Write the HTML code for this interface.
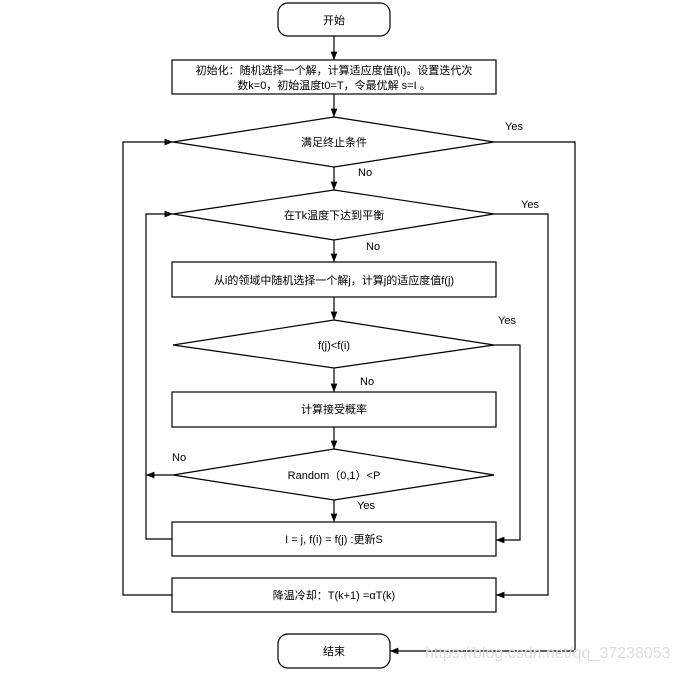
<!DOCTYPE html>
<html><head><meta charset="utf-8"><style>
body{margin:0;background:#fff;}
svg text{font-family:"Liberation Sans","Noto Sans CJK SC",sans-serif;font-size:11px;fill:#000;}
</style></head><body>
<svg width="678" height="671" viewBox="0 0 678 671" xmlns="http://www.w3.org/2000/svg">
<defs><marker id="a" viewBox="0 0 10 10" refX="10" refY="5" markerWidth="7" markerHeight="7" orient="auto"><path d="M0,1 L10,5 L0,9 z" fill="#000"/></marker></defs>
<g fill="none" stroke="#000" stroke-width="1.2">
<rect x="278" y="3" width="112" height="33" rx="10"/>
<rect x="172" y="60" width="324" height="34"/>
<polygon points="173,142 334,117 494,142 334,167"/>
<polygon points="173,214 334,190 494,214 334,240"/>
<rect x="172" y="262" width="324" height="35"/>
<polygon points="173,345 334,320 494,345 334,368"/>
<rect x="172" y="392" width="324" height="35"/>
<polygon points="173,475 334,449 494,475 334,500"/>
<rect x="172" y="522" width="324" height="34"/>
<rect x="172" y="578" width="324" height="34"/>
<rect x="278" y="634" width="112" height="34" rx="10"/>
<line x1="334" y1="36" x2="334" y2="60" marker-end="url(#a)"/>
<line x1="334" y1="94" x2="334" y2="117" marker-end="url(#a)"/>
<line x1="334" y1="167" x2="334" y2="190" marker-end="url(#a)"/>
<line x1="334" y1="240" x2="334" y2="262" marker-end="url(#a)"/>
<line x1="334" y1="297" x2="334" y2="320" marker-end="url(#a)"/>
<line x1="334" y1="368" x2="334" y2="392" marker-end="url(#a)"/>
<line x1="334" y1="427" x2="334" y2="449" marker-end="url(#a)"/>
<line x1="334" y1="500" x2="334" y2="522" marker-end="url(#a)"/>
<polyline points="494,142 575,142 575,651 390,651" marker-end="url(#a)"/>
<polyline points="494,214 548,214 548,595 496,595" marker-end="url(#a)"/>
<polyline points="494,345 520,345 520,540 496,540" marker-end="url(#a)"/>
<line x1="173" y1="475" x2="146" y2="475" marker-end="url(#a)"/>
<polyline points="172,539 146,539 146,214 173,214" marker-end="url(#a)"/>
<polyline points="172,595 123,595 123,142 173,142" marker-end="url(#a)"/>
</g>
<g text-anchor="middle">
<text x="334" y="24">开始</text>
<text x="334" y="74">初始化：随机选择一个解，计算适应度值f(i)。设置迭代次</text>
<text x="334" y="89">数k=0，初始温度t0=T，令最优解 s=I 。</text>
<text x="334" y="146">满足终止条件</text>
<text x="334" y="219">在Tk温度下达到平衡</text>
<text x="334" y="284">从i的领域中随机选择一个解j，计算j的适应度值f(j)</text>
<text x="334" y="349">f(j)&lt;f(i)</text>
<text x="334" y="413">计算接受概率</text>
<text x="334" y="479">Random（0,1）&lt;P</text>
<text x="334" y="543">I = j, f(i) = f(j) :更新S</text>
<text x="334" y="599">降温冷却：T(k+1) =αT(k)</text>
<text x="334" y="655">结束</text>
</g>
<text x="505" y="130">Yes</text>
<text x="521" y="208">Yes</text>
<text x="498" y="324">Yes</text>
<text x="358" y="176">No</text>
<text x="366" y="250">No</text>
<text x="360" y="385">No</text>
<text x="172" y="461">No</text>
<text x="357" y="509">Yes</text>
<text x="425" y="658" style="fill:#ddd;font-size:16px">https://blog.csdn.net/qq_37238053</text>
</svg>
</body></html>
